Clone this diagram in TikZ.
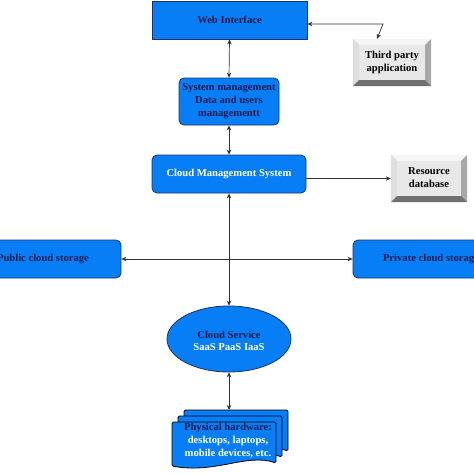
\documentclass[tikz,border=0pt]{standalone}
\usepackage{fontspec}
\setmainfont{Liberation Serif}
\usetikzlibrary{shapes.geometric,arrows.meta,calc}
\definecolor{boxblue}{RGB}{8,126,246}
\definecolor{boxedge}{RGB}{25,50,105}
\definecolor{navy}{RGB}{15,28,80}
\definecolor{linegray}{RGB}{50,50,50}
\definecolor{bevface}{RGB}{232,232,232}
\definecolor{bevtopc}{RGB}{245,245,245}
\definecolor{bevleftc}{RGB}{222,222,222}
\definecolor{bevrightc}{RGB}{168,168,168}
\definecolor{bevbotc}{RGB}{112,112,112}
\newcommand\bevelbox[1]{%
  \fill[bevtopc] (#1.north west) -- (#1.north east) -- ($(#1.north east)+(-6,6)$) -- ($(#1.north west)+(6,6)$) -- cycle;
  \fill[bevleftc] (#1.north west) -- (#1.south west) -- ($(#1.south west)+(6,-6)$) -- ($(#1.north west)+(6,6)$) -- cycle;
  \fill[bevrightc] (#1.north east) -- (#1.south east) -- ($(#1.south east)+(-6,-6)$) -- ($(#1.north east)+(-6,6)$) -- cycle;
  \fill[bevbotc] (#1.south west) -- (#1.south east) -- ($(#1.south east)+(-6,-6)$) -- ($(#1.south west)+(6,-6)$) -- cycle;
}
\newcommand\docshape[4]{%
  \filldraw[docstyle] (#1,#2) -- (#1+#3,#2) -- (#1+#3,#2+#4-3)
    .. controls (#1+0.72*#3,#2+#4-13) and (#1+0.42*#3,#2+#4+8) .. (#1,#2+#4) -- cycle;
}
\begin{document}
\begin{tikzpicture}[x=1pt,y=-1pt,
  txt/.style={font=\bfseries\fontsize{10.6}{13}\selectfont, align=center, inner sep=0pt},
  bluebox/.style={txt, draw=boxedge, fill=boxblue, line width=0.8pt, rounded corners=5pt, text=navy},
  webbox/.style={txt, draw=boxedge, fill=boxblue, line width=0.8pt, text=navy},
  bevbox/.style={txt, fill=bevface, text=black, font=\fontsize{10.6}{13}\selectfont\bfseries},
  docstyle/.style={draw=black, fill=boxblue, line width=0.8pt, rounded corners=1.5pt},
  conn/.style={draw=linegray, line width=0.7pt, {Stealth[length=5pt,width=4.5pt]}-{Stealth[length=5pt,width=4.5pt]}},
  oneway/.style={draw=linegray, line width=0.7pt, -{Stealth[length=5pt,width=4.5pt]}}]
\useasboundingbox (0,0) rectangle (474,474);
\fill[white] (0,0) rectangle (474,474);

% nodes
\node[webbox, minimum width=155pt, minimum height=38pt] (web) at (229.5,20) {Web Interface};
\node[bluebox, minimum width=100pt, minimum height=47pt] (sys) at (229,101.5) {System management\\Data and users\\managementt};
\node[bluebox, minimum width=154pt, minimum height=38pt, text=white] (cms) at (229,174) {Cloud Management System};
\node[bluebox, minimum width=156pt, minimum height=38pt] (pub) at (43,259) {Public cloud storage};
\node[bluebox, minimum width=156pt, minimum height=38pt] (priv) at (431,259) {Private cloud storage};
\node[ellipse, draw=boxedge, fill=boxblue, line width=0.8pt, minimum width=124pt, minimum height=66pt] (svc) at (229,339) {};
\node[txt, text=navy] (svc1) at (229,335) {Cloud Service};
\node[txt, text=white] (svc2) at (229,347) {SaaS PaaS IaaS};

\node[bevbox, minimum width=78pt, minimum height=47pt] (tp) at (392,62.5) {};
\bevelbox{tp}
\node[bevbox] (tptext) at (392,62) {Third party\\application};
\node[bevbox, minimum width=76pt, minimum height=47pt] (rdb) at (429,178.5) {};
\bevelbox{rdb}
\node[bevbox] (rdbtext) at (429,178) {Resource\\database};

% hardware (multi-document)
\docshape{184}{410}{104}{44}
\docshape{178}{416}{104}{44}
\docshape{172}{422}{104}{44}
\node[txt, text=navy] (hw) at (228,428) {Physical hardware:};
\node[txt, text=white] (hw2) at (228,441) {desktops, laptops,};
\node[txt, text=white] (hw3) at (228,454) {mobile devices, etc.};
\coordinate (hwtop) at (229,410);

% connectors
\coordinate (c1) at (383,24);
\draw[draw=linegray, line width=0.7pt, {Stealth[length=5pt,width=4.5pt]}-{Stealth[length=5pt,width=4.5pt]}]
  (web.east |- c1) -- (c1) -- ([xshift=-15pt]tp.north);
\draw[conn] (web.south) -- (sys.north);
\draw[conn] (sys.south) -- (cms.north);
\draw[oneway] (cms.east |- rdb.west) -- (rdb.west);
\draw[conn] (cms.south) -- (svc.north);
\draw[conn] (pub.east) -- (priv.west);
\draw[conn] (svc.south) -- (hwtop);
\end{tikzpicture}
\end{document}
